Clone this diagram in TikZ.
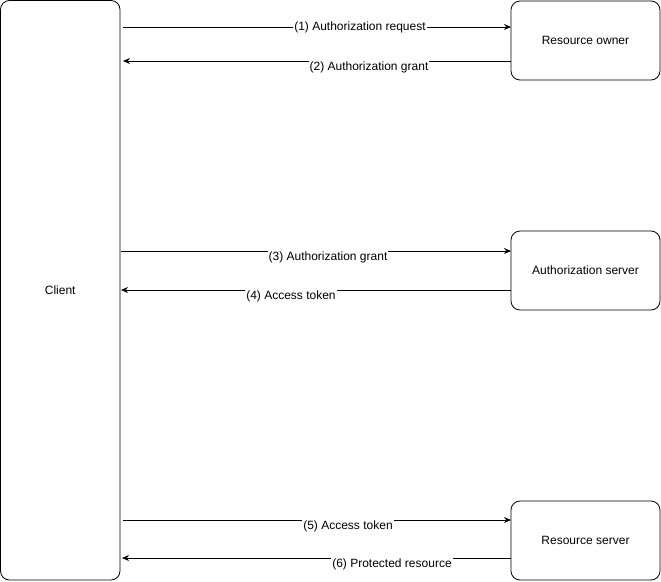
\documentclass[tikz,border=0pt]{standalone}
\usepackage{fontspec}
\setmainfont{Liberation Sans}
\usetikzlibrary{arrows.meta}
\begin{document}
\begin{tikzpicture}[x=1pt,y=-1pt,
  box/.style={draw,rounded corners=9pt,line width=0.8pt},
  lab/.style={fill=white,inner sep=1pt,font=\fontsize{12}{14}\selectfont},
  arr/.style={-{Stealth[length=7pt,width=6pt]},line width=0.8pt}]
\useasboundingbox (0,0) rectangle (661,581);
\draw[box] (0.5,0.5) rectangle (120,580) node[midway,font=\fontsize{12}{14}\selectfont] (client) {Client};
\draw[box] (511,1) rectangle (660,80);
\node[font=\fontsize{12}{14}\selectfont] (ro) at (585.5,40.5) {Resource owner};
\draw[box] (511,231) rectangle (660,310);
\node[font=\fontsize{12}{14}\selectfont] (as) at (585.5,270.5) {Authorization server};
\draw[box] (511,501) rectangle (660,580);
\node[font=\fontsize{12}{14}\selectfont] (rs) at (585.5,540.5) {Resource server};
\coordinate (c1) at (123,27); \coordinate (r1) at (511,27);
\draw[arr] (c1) -- (r1);
\node[lab] (l1) at (360,27) {(1) Authorization request};
\coordinate (c2) at (123,61); \coordinate (r2) at (511,61);
\draw[arr] (r2) -- (c2);
\node[lab] (l2) at (369,67) {(2) Authorization grant};
\coordinate (c3) at (121,251); \coordinate (r3) at (511,251);
\draw[arr] (c3) -- (r3);
\node[lab] (l3) at (328,257) {(3) Authorization grant};
\coordinate (c4) at (121,290); \coordinate (r4) at (511,290);
\draw[arr] (r4) -- (c4);
\node[lab] (l4) at (291,296) {(4) Access token};
\coordinate (c5) at (123,520); \coordinate (r5) at (511,520);
\draw[arr] (c5) -- (r5);
\node[lab] (l5) at (348,526) {(5) Access token};
\coordinate (c6) at (122,558); \coordinate (r6) at (511,558);
\draw[arr] (r6) -- (c6);
\node[lab] (l6) at (392,564) {(6) Protected resource};
\end{tikzpicture}
\end{document}
